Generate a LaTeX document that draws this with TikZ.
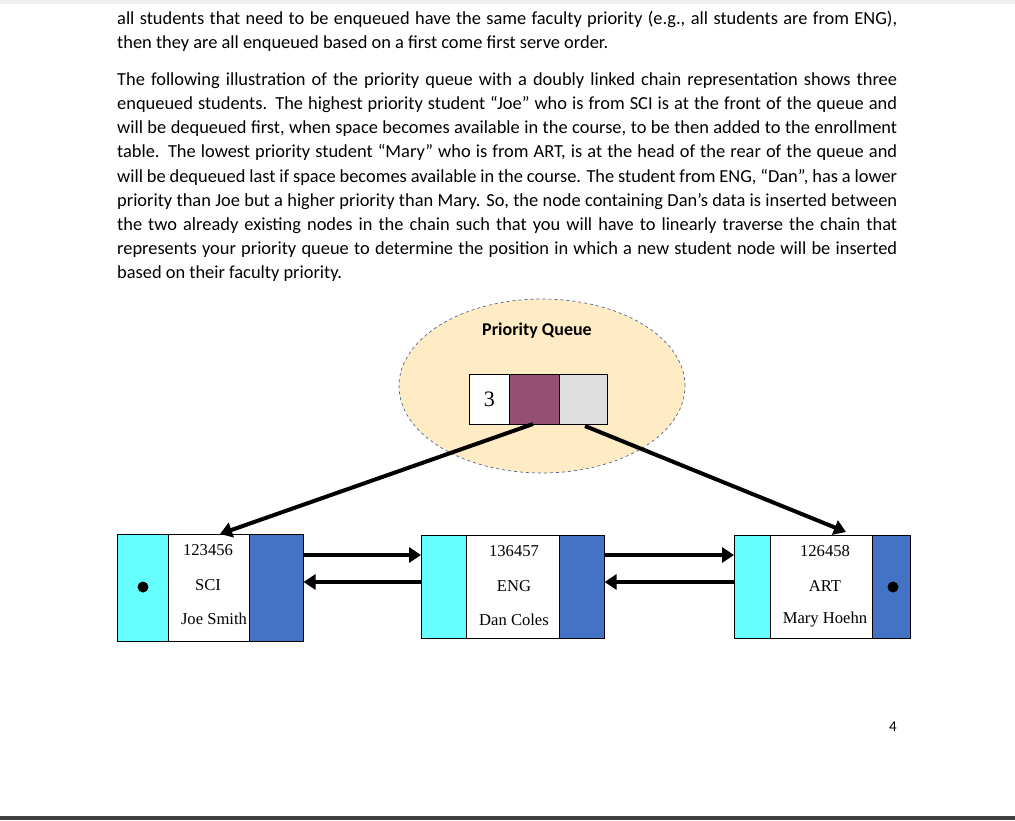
\documentclass[tikz,border=0pt]{standalone}
\usetikzlibrary{shapes.geometric,arrows.meta}
\usepackage{fontspec}
\setmainfont{Carlito}
\newfontfamily\tnr{Liberation Serif}
\begin{document}
\begin{tikzpicture}[x=1pt,y=-1pt,
  para/.style={anchor=base west,inner sep=0pt,font=\fontsize{18.4}{20}\selectfont},
  cell/.style={draw=black,line width=0.6pt,minimum height=#1,inner sep=0pt,anchor=north west},
  fld/.style={font=\tnr\fontsize{16.6}{18}\selectfont,inner sep=0pt},
  arr/.style={line width=4pt,-{Triangle[length=12pt,width=15pt]}}]
\useasboundingbox (0,0) rectangle (1015,820);
\fill[gray!12] (0,0) rectangle (1015,4);
\fill[black!75] (0,816) rectangle (1015,820);
\def\J#1{\makebox[780pt][s]{#1}}
\node[para] (l1) at (117,24) {\J{all students that need to be enqueued have the same faculty priority (e.g., all students are from ENG),}};
\node[para] (l2) at (117,48) {then they are all enqueued based on a first come first serve order.};
\node[para] (p1) at (117,85) {\J{The following illustration of the priority queue with a doubly linked chain representation shows three}};
\node[para] (p2) at (117,109) {\J{enqueued students. The highest priority student “Joe” who is from SCI is at the front of the queue and}};
\node[para] (p3) at (117,133) {\J{will be dequeued first, when space becomes available in the course, to be then added to the enrollment}};
\node[para] (p4) at (117,157) {\J{table. The lowest priority student “Mary” who is from ART, is at the head of the rear of the queue and}};
\node[para] (p5) at (117,182) {\J{will be dequeued last if space becomes available in the course. The student from ENG, “Dan”, has a lower}};
\node[para] (p6) at (117,206) {\J{priority than Joe but a higher priority than Mary. So, the node containing Dan’s data is inserted between}};
\node[para] (p7) at (117,230) {\J{the two already existing nodes in the chain such that you will have to linearly traverse the chain that}};
\node[para] (p8) at (117,254) {\J{represents your priority queue to determine the position in which a new student node will be inserted}};
\node[para] (p9) at (117,278) {based on their faculty priority.};
% ellipse
\node[draw={rgb,255:red,80;green,100;blue,150},dashed,line width=0.7pt,fill={rgb,255:red,255;green,236;blue,196},ellipse,minimum width=286pt,minimum height=174pt] (ell) at (542,386) {};
\node[font=\bfseries\fontsize{18}{20}\selectfont] (pq) at (537,331) {Priority Queue};
\node[cell=50pt,minimum width=40pt,fill=white,font=\tnr\fontsize{22}{24}\selectfont] (cnt) at (469,374) {3};
\node[cell=50pt,minimum width=50pt,fill={rgb,255:red,149;green,79;blue,114}] (fr) at (509,374) {};
\node[cell=50pt,minimum width=48pt,fill=gray!25] (rr) at (559,374) {};
% node 1
\node[cell=107pt,minimum width=51pt,fill={rgb,255:red,102;green,255;blue,255}] (a1) at (117,534) {};
\node[cell=107pt,minimum width=81pt,fill=white] (b1) at (168,534) {};
\node[cell=107pt,minimum width=54pt,fill={rgb,255:red,68;green,114;blue,196}] (c1) at (249,534) {};
% node 2
\node[cell=103pt,minimum width=45pt,fill={rgb,255:red,102;green,255;blue,255}] (a2) at (421,535) {};
\node[cell=103pt,minimum width=93pt,fill=white] (b2) at (466,535) {};
\node[cell=103pt,minimum width=45pt,fill={rgb,255:red,68;green,114;blue,196}] (c2) at (559,535) {};
% node 3
\node[cell=103pt,minimum width=36pt,fill={rgb,255:red,102;green,255;blue,255}] (a3) at (734,535) {};
\node[cell=103pt,minimum width=102pt,fill=white] (b3) at (770,535) {};
\node[cell=103pt,minimum width=38pt,fill={rgb,255:red,68;green,114;blue,196}] (c3) at (872,535) {};
\node[fld] (t11) at (208,550) {123456};
\node[fld] (t12) at (208,585) {SCI};
\node[fld] (t13) at (214,619) {Joe Smith};
\node[fld] (t21) at (514,551) {136457};
\node[fld] (t22) at (514,586) {ENG};
\node[fld] (t23) at (514,620) {Dan Coles};
\node[fld] (t31) at (825,551) {126458};
\node[fld] (t32) at (825,586) {ART};
\node[fld] (t33) at (825,620) {Mary Hoehn};
\fill (143,587) circle (5.5pt) coordinate (d1);
\fill (893,587) circle (5.5pt) coordinate (d3);
% arrows
\coordinate (s1) at (533,424); \coordinate (e1) at (220,534);
\coordinate (s2) at (585,426); \coordinate (e2) at (846,532);
\draw[arr] (s1) -- (e1);
\draw[arr] (s2) -- (e2);
\draw[arr] (c1.east |- 0,555) -- (a2.west |- 0,555);
\draw[arr] (a2.west |- 0,582) -- (c1.east |- 0,582);
\draw[arr] (c2.east |- 0,555) -- (a3.west |- 0,555);
\draw[arr] (a3.west |- 0,582) -- (c2.east |- 0,582);
\node[font=\fontsize{15}{16}\selectfont] (pg) at (893,727) {4};
\end{tikzpicture}
\end{document}
